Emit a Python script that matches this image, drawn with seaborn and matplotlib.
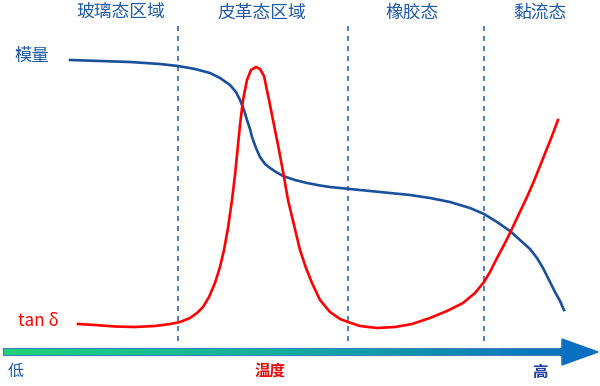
import numpy as np
import pandas as pd
import matplotlib
matplotlib.use("Agg")
import matplotlib.pyplot as plt
import seaborn as sns
from matplotlib.patches import Polygon, Rectangle
from matplotlib.colors import LinearSegmentedColormap

# Data (in chart pixel space: x = temperature position, y = screen y)
mod_x = [70, 100, 130, 160, 178, 195, 210, 220, 230, 236, 240, 244, 247, 250, 252, 256, 260, 265, 270, 276, 283, 295, 307, 320, 330, 350, 370, 390, 410, 430, 450, 470, 484, 497, 510, 520, 530, 537, 543, 549, 555, 560, 564]
mod_y = [60, 61, 62, 64, 66, 69, 73, 78, 85, 92, 100, 110, 120, 129, 137, 148, 157, 164, 168, 172, 176, 180, 183, 185.5, 187, 189, 191, 193, 195, 198, 202, 208, 214, 222, 231, 240, 249, 258, 268, 280, 292, 301, 310]

tan_x = [78, 95, 115, 135, 155, 170, 180, 190, 197, 203, 209, 215, 220, 224, 228, 232, 235, 237.5, 240, 243, 247, 251, 256, 260, 264, 269, 274, 279, 284, 288, 294, 300, 306, 312, 320, 330, 340, 348, 360, 377, 395, 412, 430, 447, 463, 475, 484, 490, 497, 504, 510, 518, 527, 534, 540, 546, 552, 558]
tan_y = [324, 325, 326.5, 327, 326, 324, 322, 318, 313, 307, 297, 283, 267, 250, 228, 200, 175, 150, 125, 100, 80, 70, 67, 69, 76, 100, 125, 150, 177, 200, 225, 250, 268, 283, 300, 312, 319, 322, 326, 328, 327, 324, 318, 311, 303, 293, 282, 272, 258, 245, 233, 216, 197, 181, 166, 151, 136, 120]

region_labels = ["玻璃态区域", "皮革态区域", "橡胶态", "黏流态"]
region_x = [121, 262, 412, 540]
divider_x = [178, 348, 484]

fig = plt.figure(figsize=(6, 3.86), dpi=100)
ax = fig.add_axes([0, 0, 1, 1])

fam = ["Noto Sans CJK SC", "DejaVu Sans"]
dblue = "#1F5AA6"

# divider lines
for dx in divider_x:
    ax.plot([dx, dx], [26, 346], ls=(0, (3, 3)), color="#2E6BB5", lw=1.2)

df_m = pd.DataFrame({"x": mod_x, "y": mod_y})
df_t = pd.DataFrame({"x": tan_x, "y": tan_y})
sns.lineplot(data=df_m, x="x", y="y", ax=ax, color="#1A4F9C", lw=1.9, sort=False, estimator=None)
sns.lineplot(data=df_t, x="x", y="y", ax=ax, color="#FF0000", lw=1.9, sort=False, estimator=None)

# gradient arrow shaft
grad = np.linspace(0, 1, 256).reshape(1, -1)
cmap = LinearSegmentedColormap.from_list("g", ["#22D37A", "#12AFA0", "#0A74C0"])
ax.imshow(grad, extent=[3, 566, 355, 348], cmap=cmap, aspect="auto", zorder=3)
ax.add_patch(Rectangle((3, 348), 563, 7, fill=False, ec="#3F7FBF", lw=0.8, zorder=4))
ax.add_patch(Polygon([[562, 339], [598, 352], [562, 365]], closed=True, fc="#0A6FC0", ec="#0A6FC0", zorder=4))

ax.set_xlim(0, 600)
ax.set_ylim(386, 0)
ax.axis("off")

for lab, x in zip(region_labels, region_x):
    ax.text(x, 13, lab, ha="center", va="center", fontsize=12.8, color=dblue, family=fam)

ax.text(32, 56, "模量", ha="center", va="center", fontsize=12.5, color=dblue, family=fam)
ax.text(38, 321, "tan δ", ha="center", va="center", fontsize=12.3, color="#FF0000", family=fam)
ax.text(16, 371, "低", ha="center", va="center", fontsize=11.5, color=dblue, family=fam)
ax.text(270, 371, "温度", ha="center", va="center", fontsize=11.2, color="#E01010", family=fam, fontweight="bold")
ax.text(540, 372, "高", ha="center", va="center", fontsize=11.2, color="#1F3FA0", family=fam, fontweight="bold")

fig.savefig("out.png", dpi=100)
